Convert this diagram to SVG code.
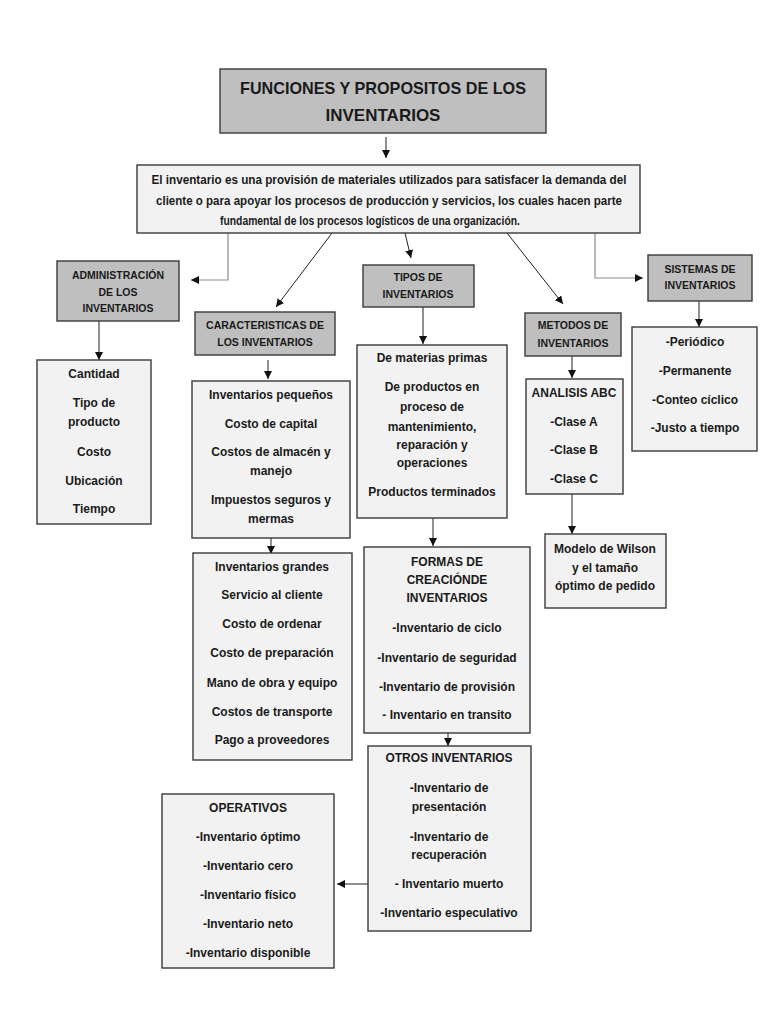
<svg xmlns="http://www.w3.org/2000/svg" width="768" height="1024" viewBox="0 0 768 1024">
<defs>
<marker id="ah" markerUnits="userSpaceOnUse" markerWidth="8" markerHeight="8" refX="8" refY="4" orient="auto">
<path d="M0,0 L8,4 L0,8 z" fill="#111"/>
</marker>
<style>
.dark{fill:#bfbfbf;stroke:#3a3a3a;stroke-width:1.4}
.light{fill:#f2f2f2;stroke:#3a3a3a;stroke-width:1.4}
text{font-family:"Liberation Sans",Arial,sans-serif;font-weight:bold;fill:#1a1a1a;text-anchor:middle}
.title{font-size:17px}
.h{font-size:10.5px}
.t{font-size:12px}
.m{font-size:12.5px}
.c{fill:none;stroke:#222;stroke-width:1;marker-end:url(#ah)}
.g{fill:none;stroke:#8c8c8c;stroke-width:1.2;marker-end:url(#ah)}
</style>
</defs>
<rect width="768" height="1024" fill="#ffffff"/>

<g id="connectors">
<path class="c" d="M386,137 V158"/>
<path class="g" d="M228,233 V280 H191"/>
<path class="c" d="M332,233 L276,307"/>
<path class="c" d="M405,233 L411,258"/>
<path class="c" d="M507,233 L563,304"/>
<path class="g" d="M595,233 V278 H643"/>
<path class="c" d="M99,321 V360"/>
<path class="c" d="M268,360 V379"/>
<path class="c" d="M271,538 V554"/>
<path class="c" d="M423,307 V344"/>
<path class="c" d="M433,518 V546"/>
<path class="c" d="M448,733 V746"/>
<path class="c" d="M368,884 H337"/>
<path class="c" d="M572,356 V378"/>
<path class="c" d="M572,494 V534"/>
<path class="c" d="M699,301 V327"/>
</g>

<g id="title">
<rect class="dark" x="220" y="69" width="326" height="64"/>
<text class="title" x="383" y="94" textLength="286" lengthAdjust="spacingAndGlyphs">FUNCIONES Y PROPOSITOS DE LOS</text>
<text class="title" x="383" y="121">INVENTARIOS</text>
</g>

<g id="main">
<rect class="light" x="137" y="165" width="503" height="68"/>
<text class="m" x="389" y="184" textLength="475" lengthAdjust="spacingAndGlyphs">El inventario es una provisión de materiales utilizados para satisfacer la demanda del</text>
<text class="m" x="389" y="205" textLength="466" lengthAdjust="spacingAndGlyphs">cliente o para apoyar los procesos de producción y servicios, los cuales hacen parte</text>
<text class="m" x="370" y="225" textLength="300" lengthAdjust="spacingAndGlyphs">fundamental de los procesos logísticos de una organización.</text>
</g>

<g id="administracion">
<rect class="dark" x="57" y="261" width="122" height="60"/>
<text class="h" x="118" y="279">ADMINISTRACIÓN</text>
<text class="h" x="118" y="296">DE LOS</text>
<text class="h" x="118" y="312">INVENTARIOS</text>
</g>

<g id="caracteristicas">
<rect class="dark" x="195" y="312" width="140" height="43"/>
<text class="h" x="265" y="329">CARACTERISTICAS DE</text>
<text class="h" x="265" y="346">LOS INVENTARIOS</text>
</g>

<g id="tipos">
<rect class="dark" x="363" y="265" width="111" height="42"/>
<text class="h" x="418" y="281">TIPOS DE</text>
<text class="h" x="418" y="298">INVENTARIOS</text>
</g>

<g id="metodos">
<rect class="dark" x="525" y="313" width="96" height="43"/>
<text class="h" x="573" y="329">METODOS DE</text>
<text class="h" x="573" y="347">INVENTARIOS</text>
</g>

<g id="sistemas">
<rect class="dark" x="648" y="255" width="104" height="46"/>
<text class="h" x="700" y="273">SISTEMAS DE</text>
<text class="h" x="700" y="289">INVENTARIOS</text>
</g>

<g id="admin-list">
<rect class="light" x="37" y="360" width="114" height="164"/>
<text class="t" x="94" y="378">Cantidad</text>
<text class="t" x="94" y="407">Tipo de</text>
<text class="t" x="94" y="426">producto</text>
<text class="t" x="94" y="456">Costo</text>
<text class="t" x="94" y="485">Ubicación</text>
<text class="t" x="94" y="513">Tiempo</text>
</g>

<g id="pequenos">
<rect class="light" x="192" y="381" width="158" height="157"/>
<text class="t" x="271" y="399">Inventarios pequeños</text>
<text class="t" x="271" y="428">Costo de capital</text>
<text class="t" x="271" y="456">Costos de almacén y</text>
<text class="t" x="271" y="475">manejo</text>
<text class="t" x="271" y="504">Impuestos seguros y</text>
<text class="t" x="271" y="523">mermas</text>
</g>

<g id="grandes">
<rect class="light" x="193" y="553" width="159" height="207"/>
<text class="t" x="272" y="571">Inventarios grandes</text>
<text class="t" x="272" y="599">Servicio al cliente</text>
<text class="t" x="272" y="628">Costo de ordenar</text>
<text class="t" x="272" y="657">Costo de preparación</text>
<text class="t" x="272" y="687">Mano de obra y equipo</text>
<text class="t" x="272" y="716">Costos de transporte</text>
<text class="t" x="272" y="744">Pago a proveedores</text>
</g>

<g id="tipos-list">
<rect class="light" x="357" y="345" width="150" height="173"/>
<text class="t" x="432" y="362">De materias primas</text>
<text class="t" x="432" y="391">De productos en</text>
<text class="t" x="432" y="411">proceso de</text>
<text class="t" x="432" y="431">mantenimiento,</text>
<text class="t" x="432" y="449">reparación y</text>
<text class="t" x="432" y="467">operaciones</text>
<text class="t" x="432" y="496">Productos terminados</text>
</g>

<g id="formas">
<rect class="light" x="364" y="547" width="166" height="186"/>
<text class="t" x="447" y="566">FORMAS DE</text>
<text class="t" x="447" y="584">CREACIÓNDE</text>
<text class="t" x="447" y="602">INVENTARIOS</text>
<text class="t" x="447" y="632">-Inventario de ciclo</text>
<text class="t" x="447" y="662">-Inventario de seguridad</text>
<text class="t" x="447" y="691">-Inventario de provisión</text>
<text class="t" x="447" y="719">- Inventario en transito</text>
</g>

<g id="otros">
<rect class="light" x="368" y="746" width="163" height="185"/>
<text class="t" x="449" y="762">OTROS INVENTARIOS</text>
<text class="t" x="449" y="792">-Inventario de</text>
<text class="t" x="449" y="811">presentación</text>
<text class="t" x="449" y="841">-Inventario de</text>
<text class="t" x="449" y="859">recuperación</text>
<text class="t" x="449" y="888">- Inventario muerto</text>
<text class="t" x="449" y="917">-Inventario especulativo</text>
</g>

<g id="operativos">
<rect class="light" x="162" y="794" width="172" height="174"/>
<text class="t" x="248" y="812">OPERATIVOS</text>
<text class="t" x="248" y="841">-Inventario óptimo</text>
<text class="t" x="248" y="870">-Inventario cero</text>
<text class="t" x="248" y="899">-Inventario físico</text>
<text class="t" x="248" y="928">-Inventario neto</text>
<text class="t" x="248" y="957">-Inventario disponible</text>
</g>

<g id="analisis">
<rect class="light" x="526" y="379" width="97" height="115"/>
<text class="t" x="574" y="397">ANALISIS ABC</text>
<text class="t" x="574" y="426">-Clase A</text>
<text class="t" x="574" y="454">-Clase B</text>
<text class="t" x="574" y="483">-Clase C</text>
</g>

<g id="wilson">
<rect class="light" x="545" y="534" width="121" height="74"/>
<text class="t" x="605" y="553">Modelo de Wilson</text>
<text class="t" x="605" y="572">y el tamaño</text>
<text class="t" x="605" y="590">óptimo de pedido</text>
</g>

<g id="sistemas-list">
<rect class="light" x="632" y="327" width="125" height="124"/>
<text class="t" x="695" y="346">-Periódico</text>
<text class="t" x="695" y="375">-Permanente</text>
<text class="t" x="695" y="404">-Conteo cíclico</text>
<text class="t" x="695" y="432">-Justo a tiempo</text>
</g>
</svg>
